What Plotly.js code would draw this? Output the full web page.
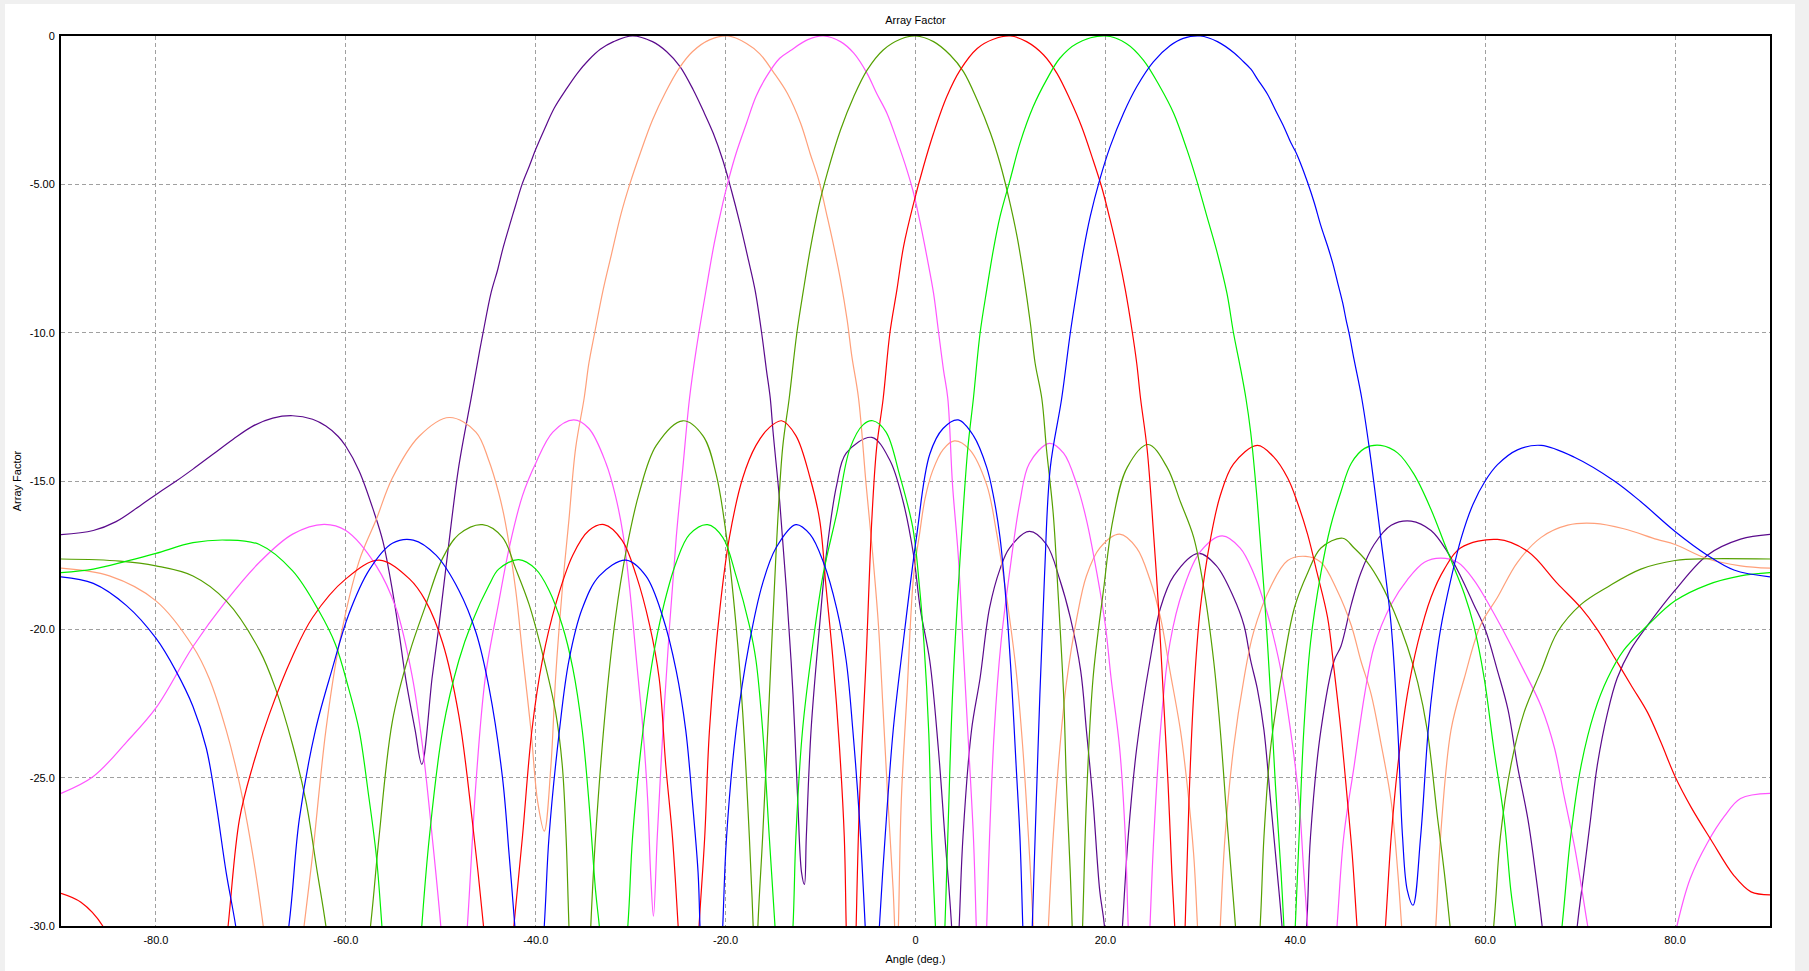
<!DOCTYPE html>
<html>
<head>
<meta charset="utf-8">
<script src="https://cdn.plot.ly/plotly-3.0.1.min.js"></script>
<style>
  html, body { margin: 0; padding: 0; background: #f0f0f0; width: 1809px; height: 971px; overflow: hidden; }
  #chart { position: absolute; left: 5px; top: 4px; width: 1790px; height: 967px; background: #ffffff; }
</style>
</head>
<body>
<div id="chart"></div>
<script>
// Each series: [angle (deg), array factor (dB)].
// Values below -30 dB stand for nulls that fall under the visible axis range.
const beamMinus30 = [[-90,-16.81],[-86.6,-16.67],[-84.2,-16.37],[-81.7,-15.84],[-79.6,-15.37],[-77.9,-15.01],[-76.1,-14.6],[-74.0,-14.1],[-71.9,-13.6],[-69.8,-13.15],[-67.7,-12.88],[-65.6,-12.80],[-63.5,-12.92],[-62.1,-13.15],[-60.8,-13.5],[-60,-13.83],[-58.6,-14.66],[-57,-16.08],[-56.1,-17.03],[-55.1,-18.68],[-54.4,-20.1],[-53.7,-21.65],[-52.7,-23.4],[-52.0,-24.55],[-50.9,-21.6],[-50.2,-19.9],[-49.3,-17.5],[-48.1,-14.5],[-46.8,-12.21],[-45.9,-10.6],[-45.58,-10.06],[-44.7,-8.65],[-44.0,-7.87],[-43.48,-7.19],[-42.77,-6.40],[-42.14,-5.73],[-41.44,-5.0],[-40.67,-4.38],[-40,-3.82],[-39.09,-3.15],[-38.03,-2.42],[-36.8,-1.80],[-35.58,-1.24],[-34.42,-0.81],[-33.2,-0.45],[-31.8,-0.19],[-29.8,0],[-27.7,-0.19],[-26.2,-0.53],[-24.8,-1.03],[-23.4,-1.82],[-22.4,-2.49],[-21.3,-3.28],[-20.3,-4.18],[-19.4,-5.19],[-18.5,-6.31],[-17.6,-7.55],[-16.9,-8.56],[-16.2,-10.02],[-15.7,-11.26],[-15.3,-12.2],[-15.0,-13.35],[-14.3,-15.7],[-13.6,-18.65],[-12.9,-22.2],[-12.4,-25.8],[-12.0,-28.2],[-11.7,-28.6],[-11.5,-27],[-11.0,-23.4],[-10.1,-19.87],[-9.4,-17.5],[-8.3,-15.13],[-7.3,-14.06],[-4.6,-13.53],[-2.7,-14.3],[-1.3,-15.7],[-0.2,-17.5],[0.5,-19.3],[1.5,-21.05],[2.4,-24],[3.1,-27],[3.8,-30],[4.2,-33],[4.6,-30],[5.0,-27],[5.9,-23.4],[6.8,-21.65],[7.8,-19.28],[8.9,-17.97],[9.9,-17.26],[12.0,-16.7],[13.8,-17.14],[15.2,-18.33],[16.3,-19.6],[17.4,-21.4],[18.0,-23.4],[18.7,-25.8],[19.4,-28.8],[19.9,-30],[20.85,-35],[21.8,-30],[22.4,-27],[23.3,-24.0],[24.7,-21.05],[25.8,-19.28],[27.2,-18.2],[29.8,-17.44],[31.7,-17.86],[33.5,-18.92],[34.6,-19.87],[35.3,-21.05],[36.0,-22.0],[36.7,-23.4],[37.4,-25.8],[38.1,-28.2],[38.6,-30],[39.9,-36],[41.2,-30],[41.6,-27],[42.7,-23.4],[44.1,-21.05],[44.8,-20.58],[45.9,-19.16],[46.9,-18.1],[48.3,-17.14],[50.1,-16.49],[52.2,-16.35],[54.3,-16.67],[56.0,-17.38],[57.4,-18.2],[58.8,-19.16],[60,-20.0],[61.3,-21.4],[62.4,-22.7],[63.4,-24.6],[64.5,-26.4],[65.3,-28.2],[66.0,-30],[67.85,-36],[69.7,-30],[70.4,-28.2],[71.1,-26.4],[71.8,-24.6],[72.9,-22.8],[73.9,-21.65],[75.3,-20.7],[77.1,-19.87],[80,-18.68],[83.4,-17.5],[86.9,-16.96],[90,-16.8]];

const beamMinus20 = [[-90,-17.94],[-84.9,-18.2],[-80,-19.04],[-76.1,-20.58],[-74.4,-21.65],[-72.6,-23.4],[-71.2,-25.2],[-69.8,-27.6],[-68.7,-30],[-66.55,-36],[-64.4,-30],[-63.5,-27.6],[-62.1,-23.4],[-60.7,-20.5],[-58.6,-17.7],[-56.8,-16.3],[-55.1,-14.9],[-52.3,-13.5],[-49.1,-12.86],[-46.3,-13.35],[-44.95,-14.3],[-43.9,-15.4],[-43.2,-16.4],[-42.1,-18.7],[-41.4,-20.8],[-40.5,-23.4],[-39.8,-25.8],[-39.1,-26.8],[-38.4,-24.6],[-37.9,-21.6],[-37.2,-18.65],[-36.5,-16.3],[-35.8,-13.9],[-34.9,-12.21],[-34.4,-11.03],[-33.8,-10.02],[-32.9,-8.56],[-32.0,-7.33],[-31.0,-5.98],[-30.1,-5.0],[-29.0,-3.96],[-27.7,-2.83],[-26.3,-1.88],[-24.9,-1.09],[-23.5,-0.53],[-21.7,-0.13],[-19.75,0],[-17.8,-0.25],[-16.4,-0.6],[-15.0,-1.2],[-13.5,-1.93],[-12.1,-2.94],[-11.1,-3.96],[-10.2,-4.85],[-9.3,-6.09],[-8.6,-7.1],[-7.9,-8.22],[-7.2,-9.57],[-6.7,-10.81],[-6.0,-12.21],[-5.2,-15.13],[-4.5,-17.5],[-3.9,-19.87],[-3.4,-22.8],[-2.9,-25.8],[-2.35,-28.8],[-2.2,-30],[-2.0,-32],[-1.8,-30],[-1.5,-25.8],[-0.9,-22.2],[-0.2,-18.2],[0.42,-16.8],[1.0,-15.6],[1.8,-14.66],[2.9,-13.94],[4.1,-13.65],[5.7,-13.94],[7.5,-15.13],[8.5,-16.67],[9.6,-18.92],[10.6,-21.4],[11.3,-24.0],[11.9,-27],[12.4,-30],[13.2,-36],[14.0,-30],[14.5,-27],[15.2,-24],[15.9,-21.8],[17.0,-19.6],[18.0,-18.2],[19.4,-17.26],[21.5,-16.79],[23.3,-17.26],[24.7,-18.33],[25.8,-19.6],[26.8,-21.4],[27.9,-23.4],[28.6,-25.2],[29.3,-27.6],[29.7,-30],[30.9,-38],[32.1,-30],[32.6,-27],[33.5,-24],[34.6,-21.65],[35.6,-20.1],[37.4,-18.57],[39.2,-17.68],[41.1,-17.54],[42.7,-17.74],[44.4,-18.68],[45.9,-19.87],[46.9,-21.05],[48.0,-22.2],[49.0,-23.8],[50.1,-25.8],[50.8,-28.2],[51.2,-30],[53.0,-38],[54.8,-30],[55.3,-27],[56.4,-23.4],[57.8,-21.65],[59.5,-19.87],[61.3,-18.92],[63.4,-17.74],[65.9,-16.9],[68.7,-16.49],[71.5,-16.43],[74.6,-16.61],[78.1,-16.97],[80,-17.14],[83.4,-17.62],[86.9,-17.86],[90,-17.94]];

const beamMinus10 = [[-90,-25.53],[-86.6,-24.96],[-83.1,-23.8],[-80,-22.65],[-76.1,-20.58],[-72.6,-19.04],[-69.1,-17.74],[-65.6,-16.79],[-62.3,-16.46],[-60,-16.67],[-56.8,-17.86],[-54.7,-19.3],[-53.0,-21.6],[-51.9,-24.0],[-50.9,-27.0],[-50.0,-30],[-48.6,-36],[-47.2,-30],[-46.3,-25.2],[-45.3,-21.6],[-43.9,-19.1],[-42.8,-17.26],[-41.4,-15.5],[-40,-14.4],[-38.2,-13.35],[-36.0,-12.94],[-34.4,-13.23],[-32.6,-14.4],[-31.6,-15.5],[-30.8,-16.8],[-30.1,-18.65],[-29.4,-21.0],[-28.7,-23.4],[-28.2,-25.8],[-27.9,-28.2],[-27.6,-29.67],[-27.2,-27],[-26.6,-23.4],[-25.9,-19.87],[-25.2,-16.9],[-24.5,-14.54],[-23.8,-12.21],[-23.1,-10.58],[-22.0,-8.45],[-21.2,-6.99],[-20.3,-5.64],[-19.6,-4.74],[-18.9,-3.96],[-17.8,-2.94],[-16.8,-2.04],[-15.7,-1.37],[-14.3,-0.75],[-13.2,-0.5],[-11.4,-0.13],[-9.7,0],[-7.9,-0.19],[-6.5,-0.58],[-5.1,-1.26],[-4.1,-1.93],[-3.0,-2.61],[-1.96,-3.51],[-0.9,-4.52],[-0.2,-5.3],[0.5,-6.31],[1.2,-7.44],[1.9,-8.67],[2.4,-9.91],[2.95,-11.26],[3.4,-12.21],[3.9,-15.13],[4.5,-17.5],[5.0,-20.46],[5.5,-23.4],[6.1,-27],[6.4,-30],[6.95,-36],[7.5,-30],[7.8,-27],[8.3,-23.4],[9.0,-20.46],[9.9,-18.1],[11.0,-15.7],[12.0,-14.4],[14.1,-13.73],[15.6,-14.06],[17.0,-15.13],[18.0,-16.3],[19.1,-18.1],[20.0,-19.87],[20.6,-21.65],[21.5,-24.0],[22.1,-27],[22.4,-30],[23.55,-40],[24.7,-30],[25.1,-27],[25.8,-23.4],[26.8,-20.46],[28.2,-18.65],[30.0,-17.38],[32.3,-16.85],[34.2,-17.26],[35.6,-18.1],[37.0,-19.4],[38.5,-21.4],[39.5,-23.4],[40.4,-25.8],[40.9,-28.2],[41.3,-30],[42.85,-37],[44.4,-30],[45.1,-27],[46.2,-24.6],[47.3,-22.2],[48.3,-20.58],[50.1,-19.16],[51.8,-18.33],[53.6,-17.74],[55.3,-17.6],[57.1,-17.74],[58.8,-18.33],[60.6,-19.28],[62.4,-20.34],[64.1,-21.4],[65.9,-22.6],[67.3,-24.0],[68.3,-25.6],[69.4,-27.3],[70.2,-28.8],[70.8,-30],[75.5,-38],[80.2,-30],[81.6,-28.4],[83.4,-27.2],[85.2,-26.3],[86.9,-25.7],[90,-25.53]];

const beam0 = [[-90,-17.63],[-83.8,-17.7],[-80,-17.86],[-76.1,-18.2],[-72.6,-19.04],[-69.1,-20.7],[-67.4,-22.0],[-65.6,-23.9],[-64.2,-25.8],[-63.0,-28.2],[-62.1,-30],[-59.75,-36],[-57.4,-30],[-56.5,-27.0],[-55.1,-23.1],[-53.3,-20.8],[-51.6,-19.2],[-49.8,-17.6],[-48.1,-16.8],[-45.6,-16.47],[-43.5,-16.9],[-42.1,-17.97],[-40.7,-19.16],[-39.3,-20.8],[-37.9,-22.8],[-37.2,-24.6],[-36.8,-27],[-36.5,-30],[-35.35,-40],[-34.2,-30],[-33.7,-27],[-32.6,-22.5],[-31.6,-19.6],[-30.5,-17.4],[-29.1,-15.4],[-27.3,-13.8],[-24.5,-12.97],[-22.4,-13.47],[-21.0,-14.77],[-19.9,-16.9],[-18.9,-19.87],[-18.2,-22.8],[-17.5,-27],[-17.1,-30],[-16.85,-33],[-16.6,-30],[-16.1,-27],[-15.4,-22.3],[-14.7,-17.5],[-14.0,-13.9],[-13.3,-12.21],[-12.5,-10.02],[-11.8,-8.56],[-11.1,-7.21],[-10.2,-5.75],[-9.3,-4.63],[-7.9,-3.17],[-6.5,-2.04],[-5.1,-1.15],[-3.4,-0.47],[-1.6,-0.11],[0,0],[1.9,-0.19],[3.65,-0.64],[5.05,-1.2],[6.5,-2.16],[7.9,-3.28],[8.9,-4.29],[9.8,-5.42],[10.7,-6.76],[11.4,-8.11],[12.1,-9.69],[12.6,-11.03],[13.3,-12.21],[13.8,-13.94],[14.5,-16.08],[15.0,-18.68],[15.6,-22.2],[15.9,-25.2],[16.3,-28.2],[16.5,-30],[17.05,-35],[17.6,-30],[18.0,-25.8],[18.7,-21.65],[19.8,-18.68],[20.8,-16.3],[22.3,-14.54],[24.5,-13.77],[26.5,-14.54],[27.9,-15.7],[29.3,-16.9],[30.4,-18.68],[31.4,-21.05],[32.1,-23.4],[32.8,-26.4],[33.4,-28.8],[33.7,-30],[35.0,-36],[36.3,-30],[36.7,-27],[37.4,-24.0],[38.5,-21.65],[39.9,-19.28],[41.3,-18.1],[42.7,-17.26],[45.0,-16.93],[46.2,-17.26],[47.6,-17.74],[49.0,-18.45],[50.4,-19.4],[51.8,-20.58],[52.9,-21.8],[53.9,-23.4],[55.0,-26.4],[55.7,-28.2],[56.3,-30],[58.6,-37],[60.9,-30],[61.6,-27],[62.7,-24.6],[64.1,-22.8],[65.9,-21.4],[67.6,-20.1],[70.1,-19.16],[72.9,-18.57],[76.4,-17.97],[80,-17.68],[83.4,-17.62],[90,-17.63]];

const beam10 = [[-90,-28.9],[-87.9,-29.2],[-85.6,-30],[-83,-32],[-79,-45],[-74,-35],[-72.4,-30],[-71.2,-26.4],[-69.8,-24.6],[-68.1,-22.9],[-65.6,-20.9],[-63.5,-19.6],[-60,-18.3],[-56.5,-17.67],[-53.3,-18.3],[-51.6,-19.04],[-49.8,-20.46],[-48.1,-22.9],[-46.7,-26.4],[-45.5,-30],[-43.9,-36],[-42.3,-30],[-41.4,-27],[-40.4,-23.4],[-39.3,-21.05],[-37.9,-19.16],[-36.1,-17.5],[-34.4,-16.67],[-32.8,-16.47],[-30.9,-17.0],[-29.4,-18.2],[-28.0,-19.87],[-27.0,-21.65],[-26.3,-24.6],[-25.6,-27],[-25.0,-30],[-23.9,-36],[-22.8,-30],[-22.2,-27],[-21.7,-23.4],[-20.6,-19.3],[-19.6,-16.9],[-18.2,-14.9],[-16.8,-13.8],[-15.4,-13.2],[-14.1,-12.97],[-12.6,-13.47],[-11.1,-14.9],[-10.1,-16.3],[-9.4,-18.65],[-8.7,-21],[-8.0,-24],[-7.5,-27],[-7.3,-30],[-6.75,-38],[-6.25,-30],[-5.9,-25.8],[-5.2,-21],[-4.6,-16.3],[-4.1,-13.9],[-3.4,-12.21],[-2.7,-10.02],[-1.96,-8.56],[-1.26,-7.1],[-0.2,-5.64],[0.84,-4.4],[1.9,-3.28],[3.3,-2.04],[4.7,-1.15],[6.5,-0.42],[8.2,-0.11],[10,0],[11.7,-0.19],[13.5,-0.64],[14.9,-1.26],[16.3,-2.16],[17.5,-3.06],[18.7,-4.18],[19.6,-5.08],[20.5,-6.2],[21.4,-7.44],[22.1,-8.56],[22.8,-9.91],[23.3,-11.03],[23.7,-12.21],[24.4,-13.94],[25.1,-16.9],[25.6,-19.28],[26.1,-22.2],[26.6,-25.2],[27.0,-28.2],[27.3,-30],[27.85,-34],[28.4,-30],[28.8,-25.8],[29.3,-22.2],[30.0,-19.28],[31.1,-16.9],[32.1,-15.49],[33.5,-14.42],[36.0,-13.8],[37.7,-14.18],[39.2,-14.9],[40.2,-15.7],[41.3,-16.8],[42.3,-18.1],[43.4,-19.6],[44.1,-21.4],[44.8,-23.4],[45.5,-25.8],[46.0,-27.6],[46.5,-30],[48.0,-37],[49.5,-30],[50.1,-27],[50.8,-24.6],[51.8,-22.2],[52.9,-20.46],[54.3,-18.92],[55.7,-17.97],[57.4,-17.26],[61.3,-16.97],[64.5,-17.38],[67.6,-18.45],[70.1,-19.28],[71.8,-20.0],[73.6,-20.94],[75.4,-21.9],[77.1,-22.8],[78.5,-23.8],[80,-24.96],[81.7,-26.0],[83.8,-27.1],[86.2,-28.3],[88.0,-28.85],[90,-28.95]];

const beam20 = [[-90,-18.09],[-86.6,-17.97],[-83.1,-17.7],[-80,-17.44],[-76.1,-17.08],[-72.6,-16.99],[-69.1,-17.14],[-65.6,-18.03],[-62.8,-19.4],[-61.1,-20.5],[-59.7,-22.0],[-58.6,-23.4],[-57.6,-25.6],[-56.8,-27.6],[-56.2,-30],[-54.1,-40],[-52.0,-30],[-51.2,-27],[-49.8,-23.4],[-48.1,-21.05],[-46.7,-19.75],[-44.9,-18.5],[-43.9,-17.97],[-41.8,-17.65],[-40,-17.97],[-38.6,-18.68],[-37.2,-19.87],[-36.1,-21.3],[-35.1,-23.4],[-34.4,-25.8],[-33.7,-28.8],[-33.3,-30],[-31.8,-35],[-30.3,-30],[-29.8,-27],[-28.7,-23.4],[-27.7,-21.05],[-26.6,-19.3],[-25.2,-17.74],[-23.8,-16.8],[-21.9,-16.47],[-20.3,-16.9],[-18.9,-18.2],[-17.5,-19.87],[-16.8,-21.05],[-16.1,-23.4],[-15.4,-27],[-14.8,-30],[-13.85,-35],[-12.9,-30],[-12.6,-27],[-11.9,-23.4],[-10.8,-20.46],[-9.7,-18.1],[-8.3,-16.1],[-6.9,-13.9],[-5.5,-13.1],[-4.5,-12.97],[-3.1,-13.35],[-1.7,-14.77],[-0.3,-16.55],[0.4,-18.5],[0.9,-20.5],[1.4,-23.5],[1.7,-27],[2.1,-30],[2.6,-34],[3.1,-30],[3.4,-27],[3.9,-22.2],[4.6,-18.1],[5.5,-13.94],[6.1,-12.21],[6.8,-10.02],[7.5,-8.56],[8.2,-7.21],[8.9,-6.09],[9.96,-4.85],[11.0,-3.62],[12.4,-2.38],[13.8,-1.48],[15.2,-0.75],[17.0,-0.25],[20.0,0],[22.2,-0.25],[24.0,-0.81],[25.75,-1.71],[27.2,-2.61],[28.6,-3.84],[29.6,-4.85],[30.7,-6.09],[31.7,-7.21],[32.8,-8.67],[33.5,-10.02],[34.2,-11.15],[34.8,-12.21],[35.3,-13.35],[36.0,-15.7],[36.7,-18.65],[37.4,-22.2],[37.9,-25.2],[38.5,-28.2],[38.8,-30],[39.4,-34],[40.0,-30],[40.4,-27],[40.9,-23.4],[41.6,-20.46],[42.7,-18.1],[43.7,-16.55],[44.8,-15.37],[45.9,-14.4],[47.3,-13.9],[49.0,-13.8],[50.8,-14.06],[52.5,-14.77],[54.3,-15.96],[55.7,-17.1],[56.7,-17.9],[57.8,-18.8],[58.8,-19.87],[59.9,-21.65],[60.9,-24],[62.0,-26.4],[62.7,-28.8],[63.2,-30],[65.65,-37],[68.1,-30],[69.0,-27],[70.1,-24.6],[71.5,-22.8],[72.9,-21.65],[74.6,-20.7],[77.1,-19.87],[80,-19.04],[83.4,-18.5],[86.9,-18.2],[90,-18.09]];

const beam30 = [[-90,-18.23],[-86.6,-18.45],[-83.1,-19.2],[-80,-20.3],[-77.9,-21.4],[-76.1,-22.6],[-74.7,-24.0],[-73.7,-25.8],[-72.6,-28.2],[-71.6,-30],[-68.8,-36],[-66.0,-30],[-64.9,-26.4],[-63.2,-23.4],[-61.4,-21.3],[-59.7,-19.5],[-57.5,-17.98],[-55.1,-17.1],[-52.9,-16.99],[-50.5,-17.5],[-48.1,-18.68],[-46.3,-20.1],[-44.9,-22.0],[-43.5,-25.0],[-42.8,-27.6],[-42.2,-30],[-40.65,-37],[-39.1,-30],[-38.6,-27],[-37.5,-23.4],[-36.5,-21.05],[-35.1,-19.3],[-33.3,-18.2],[-30.5,-17.67],[-28.4,-18.2],[-26.6,-19.6],[-25.2,-21.4],[-24.2,-23.4],[-23.5,-25.8],[-22.9,-28.2],[-22.7,-30],[-21.5,-40],[-20.3,-30],[-19.9,-27],[-18.9,-23.4],[-17.5,-20.46],[-16.1,-18.45],[-14.7,-17.26],[-12.6,-16.47],[-11.1,-16.8],[-9.7,-17.74],[-8.3,-19.3],[-7.3,-21.05],[-6.6,-23.4],[-5.9,-26.4],[-5.3,-30],[-4.55,-35],[-3.8,-30],[-3.2,-27],[-2.35,-23.4],[-1.3,-20.46],[0.1,-16.9],[1.5,-14.1],[2.9,-13.23],[4.5,-12.94],[6.1,-13.47],[7.5,-14.54],[8.2,-15.49],[8.9,-16.9],[9.6,-19.3],[10.1,-21.65],[10.6,-24.6],[11.0,-27.0],[11.3,-30],[11.8,-35],[12.3,-30],[12.6,-27],[13.1,-22.2],[13.6,-18.1],[14.2,-14.54],[15.4,-12.21],[16.3,-10.02],[17.0,-8.56],[17.7,-7.21],[18.4,-6.09],[19.4,-4.85],[20.5,-3.73],[21.9,-2.61],[23.3,-1.71],[25.05,-0.87],[26.8,-0.33],[28.2,-0.08],[30.0,0],[31.8,-0.19],[33.6,-0.58],[34.3,-0.79],[35.33,-1.12],[36.03,-1.46],[37.09,-1.97],[37.96,-2.53],[38.84,-3.09],[39.54,-3.60],[40,-3.88],[40.6,-4.33],[41.3,-4.94],[42.0,-5.62],[42.7,-6.40],[43.4,-7.08],[43.93,-7.64],[44.46,-8.31],[44.99,-8.99],[45.34,-9.55],[45.69,-10.06],[46.2,-10.92],[47.0,-12.21],[47.8,-13.9],[49.0,-16.9],[50.1,-19.87],[50.8,-23.4],[51.3,-27],[51.8,-28.8],[52.4,-29.3],[53.2,-27],[54.0,-23.4],[54.6,-21.6],[55.3,-20.0],[56.4,-18.3],[57.5,-16.9],[58.7,-15.8],[60,-15.0],[61.3,-14.45],[63.4,-13.95],[65.9,-13.8],[69.4,-14.2],[73.6,-15.0],[76.4,-15.7],[80,-16.7],[83.4,-17.5],[86.2,-18.0],[90,-18.23]];

const seriesNames = ['-30 deg', '-20 deg', '-10 deg', '0 deg', '10 deg', '20 deg', '30 deg'];
const seriesColors = ['#5a0a8c', '#ffa07a', '#ff55ff', '#55a000', '#ff0000', '#00f000', '#0000ff'];
const xTickValues = [-80, -60, -40, -20, 0, 20, 40, 60, 80];
const xTickLabels = ['-80.0', '-60.0', '-40.0', '-20.0', '0', '20.0', '40.0', '60.0', '80.0'];
const yTickValues = [0, -5, -10, -15, -20, -25, -30];
const yTickLabels = ['0', '-5.00', '-10.0', '-15.0', '-20.0', '-25.0', '-30.0'];

const allSeries = [beamMinus30, beamMinus20, beamMinus10, beam0, beam10, beam20, beam30];
const FONT = 'Liberation Sans, Arial, sans-serif';

const traces = allSeries.map(function (s, i) {
  return {
    type: 'scatter',
    mode: 'lines',
    name: seriesNames[i],
    x: s.map(function (p) { return p[0]; }),
    y: s.map(function (p) { return p[1]; }),
    line: { color: seriesColors[i], width: 1.2, shape: 'spline', smoothing: 1 },
    hoverinfo: 'x+y'
  };
});

const layout = {
  width: 1790,
  height: 967,
  margin: { l: 56, r: 25, t: 32, b: 45 },
  paper_bgcolor: '#ffffff',
  plot_bgcolor: '#ffffff',
  showlegend: false,
  font: { family: FONT, size: 11, color: '#000000' },
  title: {
    text: 'Array Factor',
    font: { family: FONT, size: 11, color: '#000000' },
    x: 0.5, xref: 'paper', xanchor: 'center',
    y: 1 - 16 / 967, yref: 'container', yanchor: 'middle'
  },
  xaxis: {
    range: [-90, 90],
    tickmode: 'array',
    tickvals: xTickValues,
    ticktext: xTickLabels,
    ticks: '',
    ticklabelstandoff: 3,
    tickfont: { family: FONT, size: 11, color: '#000000' },
    showgrid: true,
    gridcolor: '#a0a0a0',
    gridwidth: 1,
    griddash: '4px,3px',
    zeroline: false,
    showline: true,
    linecolor: '#000000',
    linewidth: 2,
    mirror: true,
    fixedrange: true,
    title: { text: 'Angle (deg.)', font: { family: FONT, size: 11, color: '#000000' }, standoff: 10 }
  },
  yaxis: {
    range: [-30, 0],
    tickmode: 'array',
    tickvals: yTickValues,
    ticktext: yTickLabels,
    ticks: '',
    ticklabelstandoff: 2,
    tickfont: { family: FONT, size: 11, color: '#000000' },
    showgrid: true,
    gridcolor: '#a0a0a0',
    gridwidth: 1,
    griddash: '4px,3px',
    zeroline: false,
    showline: true,
    linecolor: '#000000',
    linewidth: 2,
    mirror: true,
    fixedrange: true,
    title: { text: 'Array Factor', font: { family: FONT, size: 11, color: '#000000' }, standoff: 6 }
  }
};

Plotly.newPlot('chart', traces, layout, { displayModeBar: false, staticPlot: true });
</script>
</body>
</html>
